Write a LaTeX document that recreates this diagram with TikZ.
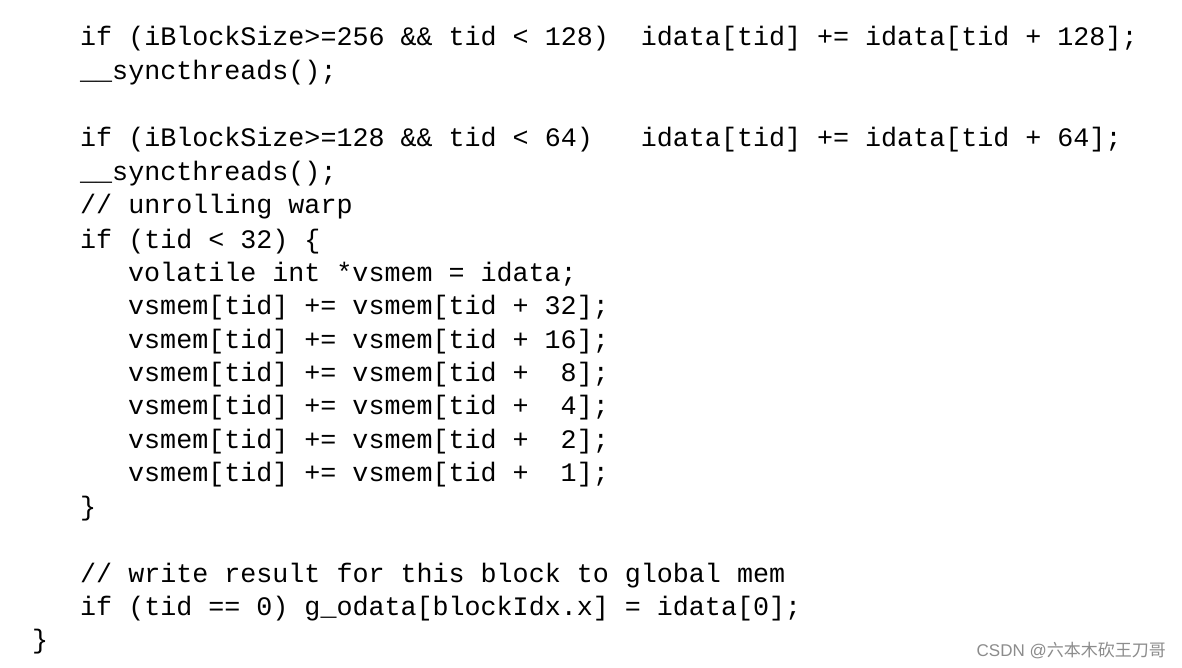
\documentclass[tikz,border=0pt]{standalone}
\usepackage{fontspec}
\setmonofont{Liberation Mono}
\newfontfamily\cjk{Noto Sans CJK SC}
\begin{document}
\begin{tikzpicture}[x=1pt,y=-1pt,
  code/.style={anchor=base west,inner sep=0pt,font=\ttfamily\fontsize{26.7}{30}\selectfont}]
\useasboundingbox[fill=white] (0,0) rectangle (1182,668);
\node[code] (l1) at (80,46) {if (iBlockSize>=256 \&\& tid < 128)~ idata[tid] += idata[tid + 128];};
\node[code] (l2) at (80,80) {\_\_syncthreads();};
\node[code] (l3) at (80,147) {if (iBlockSize>=128 \&\& tid < 64)~~ idata[tid] += idata[tid + 64];};
\node[code] (l4) at (80,181) {\_\_syncthreads();};
\node[code] (l5) at (80,214) {// unrolling warp};
\node[code] (l6) at (80,248) {if (tid < 32) \{};
\node[code] (l7) at (128,281) {volatile int *vsmem = idata;};
\node[code] (l8) at (128,314) {vsmem[tid] += vsmem[tid + 32];};
\node[code] (l9) at (128,348) {vsmem[tid] += vsmem[tid + 16];};
\node[code] (l10) at (128,381) {vsmem[tid] += vsmem[tid +~ 8];};
\node[code] (l11) at (128,414) {vsmem[tid] += vsmem[tid +~ 4];};
\node[code] (l12) at (128,448) {vsmem[tid] += vsmem[tid +~ 2];};
\node[code] (l13) at (128,481) {vsmem[tid] += vsmem[tid +~ 1];};
\node[code] (l14) at (80,515) {\}};
\node[code] (l15) at (80,582) {// write result for this block to global mem};
\node[code] (l16) at (80,615) {if (tid == 0) g\_odata[blockIdx.x] = idata[0];};
\node[code] (l17) at (32,648) {\}};
\node[anchor=base east,inner sep=0pt,text=black!45,font=\fontsize{17}{20}\selectfont] (wm) at (1166,656) {\fontspec{Liberation Sans}CSDN @\cjk 六本木砍王刀哥};
\end{tikzpicture}
\end{document}
